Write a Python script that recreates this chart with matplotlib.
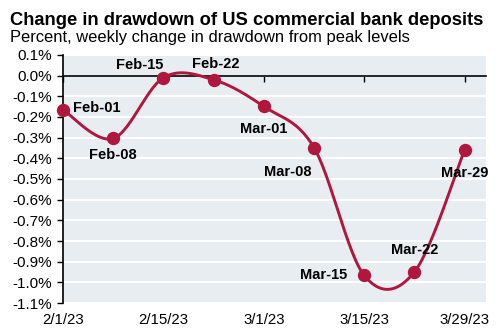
import numpy as np
import pandas as pd
import matplotlib.pyplot as plt
import matplotlib.dates as mdates
from matplotlib.ticker import FuncFormatter

plt.rcParams['font.family'] = ['Liberation Sans', 'DejaVu Sans']

# weekly points
dates = pd.to_datetime(["2023-02-01", "2023-02-08", "2023-02-15", "2023-02-22",
                        "2023-03-01", "2023-03-08", "2023-03-15", "2023-03-22",
                        "2023-03-29"])
point_labels = ["Feb-01", "Feb-08", "Feb-15", "Feb-22", "Mar-01",
                "Mar-08", "Mar-15", "Mar-22", "Mar-29"]
values = [-0.165, -0.304, -0.01, -0.02, -0.149, -0.348, -0.966, -0.95, -0.36]

tick_dates = pd.to_datetime(["2023-02-01", "2023-02-15", "2023-03-01",
                             "2023-03-15", "2023-03-29"])
tick_labels = ["2/1/23", "2/15/23", "3/1/23", "3/15/23", "3/29/23"]

# label offsets in pixels (dx, dy) and alignment
label_pos = [(10, 2, 'left'), (0, -17, 'center'), (0, 13, 'right'),
             (2, 16, 'center'), (0, -23, 'center'), (-2, -24, 'right'),
             (-17, 0, 'right'), (0, 22, 'center'), (0, -23, 'center')]

red = '#b0173f'


def smooth(x, y, n=30):
    # catmull-rom style smoothing, like a spreadsheet "smoothed line"
    x = np.asarray(x, float)
    y = np.asarray(y, float)
    xp = np.concatenate([[x[0]], x, [x[-1]]])
    yp = np.concatenate([[y[0]], y, [y[-1]]])
    xs, ys = [], []
    t = np.linspace(0, 1, n)
    h00 = 2 * t**3 - 3 * t**2 + 1
    h10 = t**3 - 2 * t**2 + t
    h01 = -2 * t**3 + 3 * t**2
    h11 = t**3 - t**2
    for i in range(1, len(xp) - 2):
        mx0 = (xp[i + 1] - xp[i - 1]) / 2
        mx1 = (xp[i + 2] - xp[i]) / 2
        my0 = (yp[i + 1] - yp[i - 1]) / 2
        my1 = (yp[i + 2] - yp[i]) / 2
        xs.append(h00 * xp[i] + h10 * mx0 + h01 * xp[i + 1] + h11 * mx1)
        ys.append(h00 * yp[i] + h10 * my0 + h01 * yp[i + 1] + h11 * my1)
    return np.concatenate(xs), np.concatenate(ys)


xnum = mdates.date2num(dates)
sx, sy = smooth(xnum, values)

fig = plt.figure(figsize=(4.96, 3.33), dpi=100)
ax = fig.add_axes([0.127, 0.09, 0.853, 0.745])
ax.set_facecolor('#e7edf1')

ax.plot(mdates.num2date(sx), sy, color=red, lw=2.1, zorder=3, clip_on=False)
ax.plot(dates, values, 'o', color=red, ms=8.6, zorder=4, clip_on=False)

for d, v, lab, (dx, dy, ha) in zip(dates, values, point_labels, label_pos):
    ax.annotate(lab, (d, v), xytext=(dx * 0.72, dy * 0.72), textcoords='offset points',
                ha=ha, va='center', fontsize=10.5, fontweight='bold', zorder=5)

ax.set_ylim(-1.1, 0.1)
ax.set_yticks(np.round(np.arange(-1.1, 0.11, 0.1), 1))
ax.yaxis.set_major_formatter(FuncFormatter(lambda v, p: f"{abs(v) if abs(v) < 1e-9 else v:.1f}%"))
ax.set_xlim(pd.Timestamp("2023-02-01"), pd.Timestamp("2023-04-01"))

ax.yaxis.grid(True, color='white', lw=1.5)
ax.set_axisbelow(True)

for s in ['top', 'right']:
    ax.spines[s].set_visible(False)
ax.spines['bottom'].set_position(('data', 0))
ax.spines['bottom'].set_linewidth(1.2)
ax.spines['left'].set_linewidth(1.2)

ax.set_xticks(tick_dates)
ax.tick_params(axis='x', labelbottom=False, direction='out', length=4, width=1)
ax.tick_params(axis='y', direction='out', length=4, width=1, labelsize=11, pad=4)

sec = ax.secondary_xaxis('bottom')
sec.set_xticks(tick_dates)
sec.set_xticklabels(tick_labels)
sec.tick_params(length=0, pad=7, labelsize=10.8)
sec.spines['bottom'].set_visible(False)

fig.text(0.02, 0.925, "Change in drawdown of US commercial bank deposits",
         fontsize=13.2, fontweight='bold', va='baseline')
fig.text(0.02, 0.874, "Percent, weekly change in drawdown from peak levels",
         fontsize=11.9, va='baseline')

fig.savefig('out.png', dpi=100)
